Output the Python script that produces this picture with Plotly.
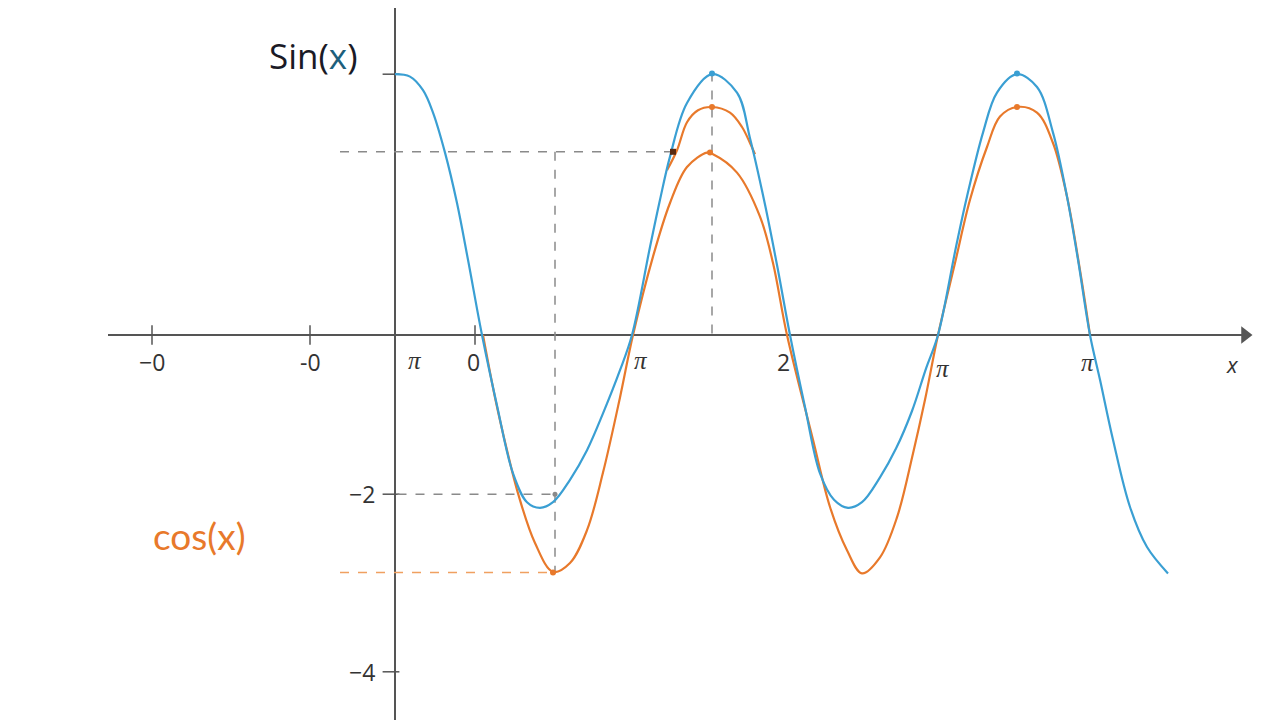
import plotly.graph_objs as go

# curve samples (chart units)
blue_x = [0, 0.3, 0.56, 0.76, 1.0, 1.24, 1.46, 1.74, 2.04, 2.36, 2.64, 2.9, 3.16, 3.5, 3.84,
          4.16, 4.5, 4.74, 5.1, 5.3, 5.5, 5.84, 6.34, 6.84, 7.1, 7.4, 7.66, 7.9,
          8.2, 8.5, 8.78, 9.06, 9.34, 9.7, 10.02, 10.34, 10.62, 10.86, 11.22, 11.44, 11.76,
          12.04, 12.44, 12.84, 13.16, 13.44, 13.66, 13.9, 14.1, 14.36, 14.7, 15.04, 15.46]
blue_y = [3.26, 3.23, 3.06, 2.78, 2.28, 1.65, 0.94, 0.0, -0.88, -1.73, -2.09, -2.16, -2.09,
          -1.81, -1.44, -0.98, -0.44, 0.0, 1.1, 1.69, 2.23, 2.9, 3.26, 3.03, 2.46,
          1.63, 0.81, 0.0, -0.9, -1.73, -2.06, -2.16, -2.09, -1.78, -1.42, -0.95, -0.42, 0.0,
          1.1, 1.73, 2.53, 3.03, 3.26, 3.1, 2.53, 1.73, 0.94, 0.0, -0.56, -1.31, -2.15,
          -2.65, -2.98]

orange_x = [1.76, 2.0, 2.24, 2.46, 2.8, 3.16, 3.5, 3.84, 4.16, 4.5, 4.76, 5.16, 5.5, 5.84,
            6.24, 6.36, 6.84, 7.3, 7.56, 7.84, 8.36, 8.7, 9.04, 9.34, 9.7, 10.04, 10.36, 10.6,
            10.86, 11.2, 11.5, 11.84, 12.1, 12.44, 12.84, 13.16, 13.44, 13.7, 13.9]
orange_y = [0.0, -0.78, -1.44, -1.98, -2.6, -2.96, -2.85, -2.44, -1.72, -0.78, 0.0, 0.98, 1.65,
            2.1, 2.28, 2.26, 2.03, 1.48, 0.9, 0.0, -1.31, -2.15, -2.69, -2.98, -2.78, -2.28,
            -1.48, -0.81, 0.0, 0.9, 1.69, 2.35, 2.73, 2.85, 2.78, 2.4, 1.73, 0.81, 0.0]

arc_x = [5.44, 5.64, 5.84, 6.06, 6.34, 6.7, 6.94, 7.1, 7.2]
arc_y = [2.06, 2.31, 2.66, 2.81, 2.85, 2.78, 2.6, 2.4, 2.26]

blue_dot_x = [6.34, 12.44]
blue_dot_y = [3.27, 3.27]
orange_dot_x = [6.34, 6.3, 12.44, 3.16]
orange_dot_y = [2.85, 2.28, 2.85, -2.97]

x_tick_pos = [-4.86, -1.7, 1.6]
x_label_pos = [-4.86, -1.7, 0.4, 1.56, 4.92, 7.76, 10.96, 13.86]
x_label_y = [-0.34, -0.34, -0.32, -0.34, -0.32, -0.34, -0.42, -0.34]
x_label_text = ["\u22120", "-0", "<i>\u03c0</i>", "0", "<i>\u03c0</i>", "2", "<i>\u03c0</i>", "<i>\u03c0</i>"]
y_tick_pos = [3.26, -1.99, -4.21]
y_label_pos = [-1.99, -4.21]
y_label_text = ["\u22122", "\u22124"]

BLUE = "#3a9fd3"
ORANGE = "#e8792b"
AXIS = "#555555"
DASH = "#8a8a8a"

fig = go.Figure()

# x axis with arrow
fig.add_trace(go.Scatter(x=[-5.74, 17.0], y=[0, 0], mode="lines",
                         line=dict(color=AXIS, width=2), hoverinfo="skip"))
fig.add_trace(go.Scatter(x=[17.0], y=[0], mode="markers",
                         marker=dict(symbol="triangle-right", size=15, color=AXIS), hoverinfo="skip"))

# tick marks
fig.add_trace(go.Scatter(x=x_tick_pos, y=[0] * len(x_tick_pos), mode="markers",
                         marker=dict(symbol="line-ns", size=14, line=dict(color=AXIS, width=1.5)),
                         hoverinfo="skip"))
fig.add_trace(go.Scatter(x=[-0.08] * len(y_tick_pos), y=y_tick_pos, mode="markers",
                         marker=dict(symbol="line-ew", size=12, line=dict(color=AXIS, width=1.5)),
                         hoverinfo="skip"))

# dashed guides
guides = [
    ([-1.1, 5.56], [2.29, 2.29], DASH),
    ([3.2, 3.2], [2.29, -2.98], DASH),
    ([0.05, 3.2], [-1.99, -1.99], DASH),
    ([6.34, 6.34], [3.28, 0], DASH),
    ([-1.1, 3.16], [-2.97, -2.97], "#f0a060"),
]
for gx, gy, gc in guides:
    fig.add_trace(go.Scatter(x=gx, y=gy, mode="lines",
                             line=dict(color=gc, width=1.5, dash="dash"), hoverinfo="skip"))

# curves
fig.add_trace(go.Scatter(x=orange_x, y=orange_y, mode="lines",
                         line=dict(color=ORANGE, width=2.2, shape="spline", smoothing=1.0)))
fig.add_trace(go.Scatter(x=arc_x, y=arc_y, mode="lines",
                         line=dict(color=ORANGE, width=2.2, shape="spline", smoothing=1.0)))
fig.add_trace(go.Scatter(x=blue_x, y=blue_y, mode="lines",
                         line=dict(color=BLUE, width=2.2, shape="spline", smoothing=1.0)))

# point markers
fig.add_trace(go.Scatter(x=blue_dot_x, y=blue_dot_y, mode="markers",
                         marker=dict(color=BLUE, size=6)))
fig.add_trace(go.Scatter(x=orange_dot_x, y=orange_dot_y, mode="markers",
                         marker=dict(color=ORANGE, size=6)))
fig.add_trace(go.Scatter(x=[3.2], y=[-1.99], mode="markers", marker=dict(color=DASH, size=5)))
fig.add_trace(go.Scatter(x=[5.56], y=[2.29], mode="markers",
                         marker=dict(color="#5a2a10", size=6, symbol="square")))

annotations = []
for xv, yv, t in zip(x_label_pos, x_label_y, x_label_text):
    fam = "Liberation Serif" if "<i>" in t else "Open Sans"
    annotations.append(dict(x=xv, y=yv, text=t, showarrow=False,
                            font=dict(family=fam, size=25 if "<i>" in t else 23, color="#333333")))
for yv, t in zip(y_label_pos, y_label_text):
    annotations.append(dict(x=-0.66, y=yv, text=t, showarrow=False,
                            font=dict(family="Open Sans", size=23, color="#333333")))
annotations.append(dict(x=16.74, y=-0.36, text="<i>x</i>", showarrow=False,
                        font=dict(family="Open Sans", size=22, color="#333333")))
annotations.append(dict(x=-1.64, y=3.5, showarrow=False,
                        text="Sin(<span style='color:#1d5f7c'>x</span>)",
                        font=dict(family="Open Sans", size=35, color="#1a1a26")))
annotations.append(dict(x=-3.92, y=-2.5, text="cos(x)", showarrow=False,
                        font=dict(family="Lato", size=37, color=ORANGE)))

# page body adds 8px margin, so the figure is 8px smaller and ranges shifted accordingly
fig.update_layout(
    width=1272, height=712,
    margin=dict(l=0, r=0, t=0, b=0),
    paper_bgcolor="white", plot_bgcolor="white",
    showlegend=False,
    xaxis=dict(range=[-7.74, 17.7], showgrid=False, showticklabels=False, ticks="",
               zeroline=True, zerolinecolor=AXIS, zerolinewidth=2),
    yaxis=dict(range=[-4.8125, 4.0875], showgrid=False, showticklabels=False, ticks="",
               zeroline=False),
    annotations=annotations,
)

fig.write_html("out.html")
